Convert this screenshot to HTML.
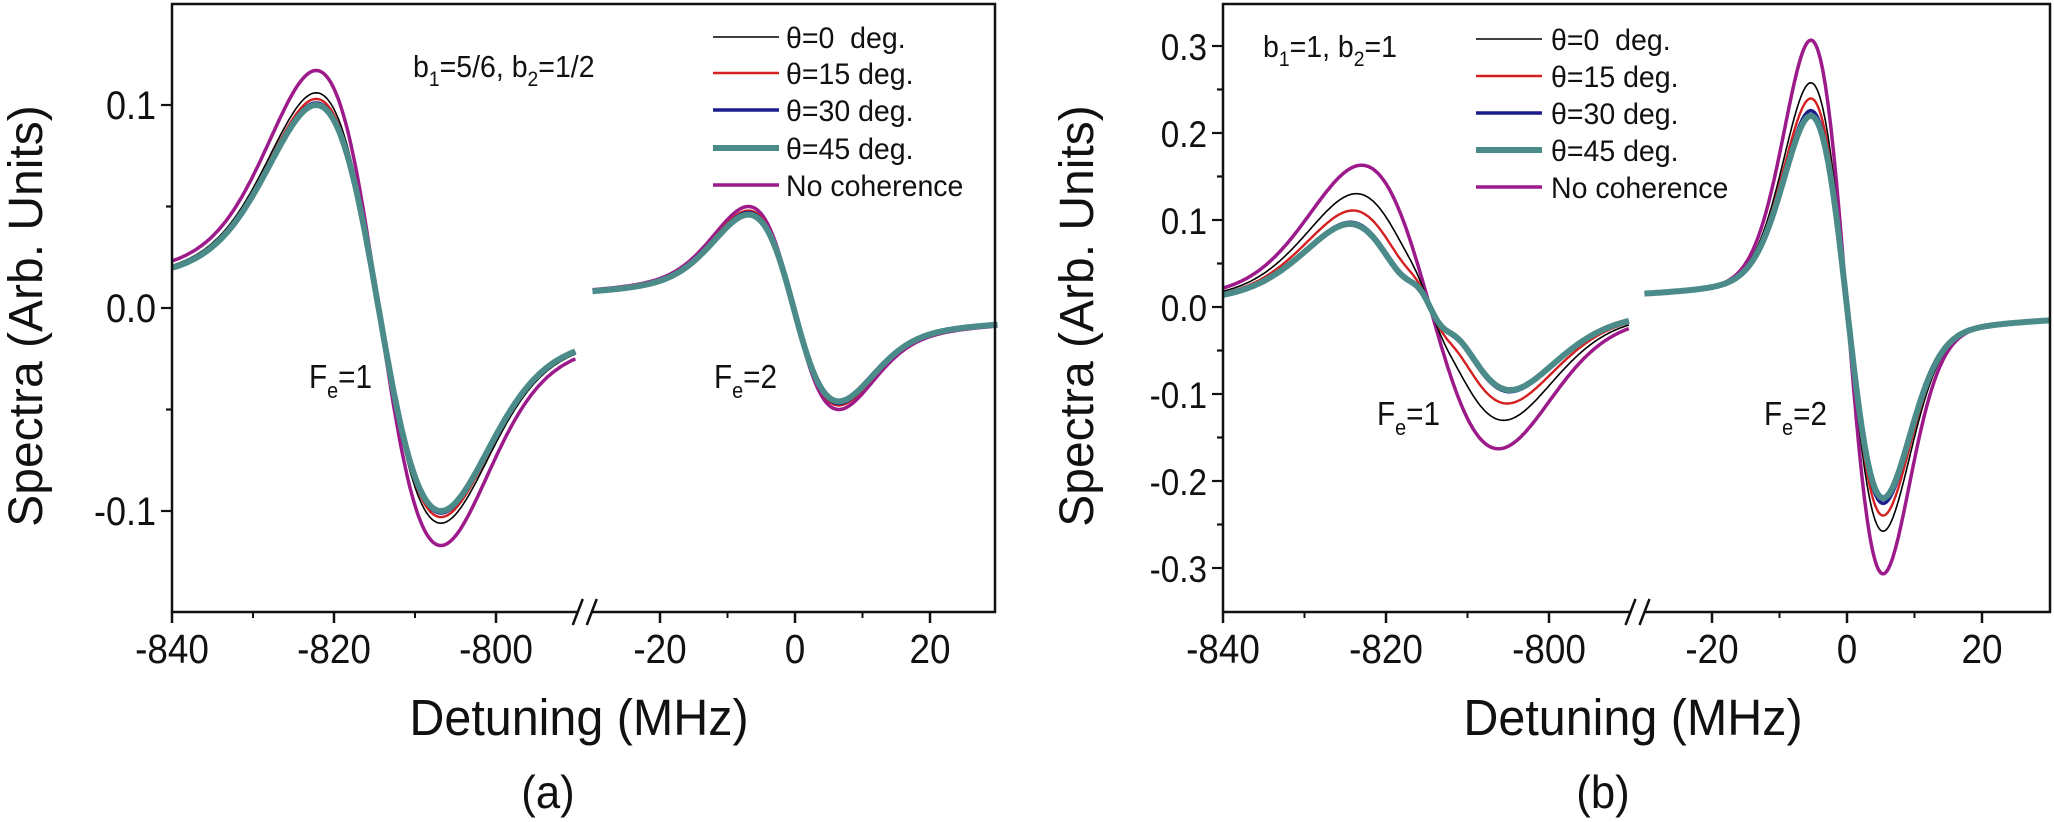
<!DOCTYPE html>
<html><head><meta charset="utf-8">
<style>
html,body{margin:0;padding:0;background:#fff;}
svg{display:block;font-family:"Liberation Sans",Arial,sans-serif;}
</style></head>
<body>
<svg id="s" width="2054" height="822" viewBox="0 0 2054 822" xmlns="http://www.w3.org/2000/svg"></svg>
<script>
const S=document.getElementById('s');
let out='';
function G(d,s){return -(d/s)*Math.exp(0.5-d*d/(2*s*s));}
function L(d,s){return -2*d*s/(d*d+s*s);}
function D(d,s,w){return (1-w)*G(d,s)+w*L(d,s);}
function txt(x,y,t,size,anchor,sx,extra){
  out+=`<text transform="translate(${x},${y}) scale(${sx||1},1)" font-size="${size}" text-anchor="${anchor||'start'}" fill="#111" ${extra||''}>${t}</text>`;
}
const cols=['#000','#d42020','#1c1c8c','#4b8b89','#9c1a8a'];
const widths=[1.6,2.4,3.5,6,3.5];
const names=['θ=0&#160;&#160;deg.','θ=15 deg.','θ=30 deg.','θ=45 deg.','No coherence'];

function panel(P){
  const {x0,x1,xa,sa,xb,sb,yz,sy,yt,yb,ymax,ystep,ylab,fnA,fnB}=P;
  for(const i of [4,0,1,2,3]){
    let p='';
    for(let m=-840;m<=-790;m+=0.2){const X=xa+(m+840)*sa,Y=yz-fnA(m,i)*sy;p+=(p?'L':'M')+X.toFixed(1)+','+Y.toFixed(1);}
    let q='';
    for(let m=-30;m<=30;m+=0.2){const X=xb+m*sb,Y=yz-fnB(m,i)*sy;q+=(q?'L':'M')+X.toFixed(1)+','+Y.toFixed(1);}
    out+=`<path d="${p}" fill="none" stroke="${cols[i]}" stroke-width="${widths[i]}" stroke-linejoin="round"/>`;
    out+=`<path d="${q}" fill="none" stroke="${cols[i]}" stroke-width="${widths[i]}" stroke-linejoin="round"/>`;
  }
  out+=`<rect x="${x0}" y="${yt}" width="${x1-x0}" height="${yb-yt}" fill="none" stroke="#111" stroke-width="2.5"/>`;
  [[-840,'-840'],[-820,'-820'],[-800,'-800']].forEach(([v,l])=>{const X=xa+(v+840)*sa;out+=`<line x1="${X}" y1="${yb}" x2="${X}" y2="${yb+11}" stroke="#111" stroke-width="2.5"/>`;txt(X,yb+51,l,41,'middle',0.9);});
  [-830,-810].forEach(v=>{const X=xa+(v+840)*sa;out+=`<line x1="${X}" y1="${yb}" x2="${X}" y2="${yb+6}" stroke="#111" stroke-width="2"/>`;});
  [[-20,'-20'],[0,'0'],[20,'20']].forEach(([v,l])=>{const X=xb+v*sb;out+=`<line x1="${X}" y1="${yb}" x2="${X}" y2="${yb+11}" stroke="#111" stroke-width="2.5"/>`;txt(X,yb+51,l,41,'middle',0.9);});
  [-10,10].forEach(v=>{const X=xb+v*sb;out+=`<line x1="${X}" y1="${yb}" x2="${X}" y2="${yb+6}" stroke="#111" stroke-width="2"/>`;});
  const bx=(xa+50*sa+xb-30*sb)/2;
  out+=`<rect x="${bx-7}" y="${yb-3}" width="14" height="6" fill="#fff"/>`;
  out+=`<line x1="${bx-12}" y1="${yb+13}" x2="${bx-2}" y2="${yb-13}" stroke="#111" stroke-width="2.5"/>`;
  out+=`<line x1="${bx+2}" y1="${yb+13}" x2="${bx+12}" y2="${yb-13}" stroke="#111" stroke-width="2.5"/>`;
  for(let k=-Math.round(ymax/ystep*2);k<=Math.round(ymax/ystep*2);k++){
    const v=k*ystep/2,Y=yz-v*sy;
    if(Y<yt+1||Y>yb-1)continue;
    const major=k%2===0;
    out+=`<line x1="${x0-(major?11:6)}" y1="${Y}" x2="${x0}" y2="${Y}" stroke="#111" stroke-width="2.2"/>`;
    if(major){let l=v.toFixed(1);if(Math.abs(v)<1e-9)l='0.0';txt(x0-16,Y+14,l,ylab,'end',0.9);}
  }
}

const ampA=[0.106,0.103,0.101,0.100,0.117];
const ampB=[0.048,0.048,0.047,0.046,0.050];
panel({x0:172,x1:995,xa:172,sa:8.1,xb:795,sb:6.75,yz:308,sy:2030,yt:4,yb:612,ymax:0.15,ystep:0.1,ylab:40,
  fnA:(m,i)=>ampA[i]*D(m+814.5,7.7,0.33),
  fnB:(m,i)=>ampB[i]*D(m+0.2,6.7,0.42)});

const uR=[0.47,0.76,0.97,1.0,0];
function magR(d){return 0.163*D(d,8.4,0.15);}
function tealR(d){return 0.105*D(d,8.4,0.15)-0.035*D(d,4,0)+0.012*G(d,1.6);}
const aR=[0.218,0.2,0.186,0.18,0.267];
panel({x0:1223,x1:2050,xa:1223,sa:8.15,xb:1847,sb:6.75,yz:307,sy:870,yt:4,yb:612,ymax:0.35,ystep:0.1,ylab:37,
  fnA:(m,i)=>{const d=m+814.6;return (1-uR[i])*magR(d)+uR[i]*tealR(d);},
  fnB:(m,i)=>0.04*L(m,6)+aR[i]*G(m,5.3)});

function legend(lx,tx,ys){
  ys.forEach((y,i)=>{out+=`<line x1="${lx}" y1="${y}" x2="${lx+66}" y2="${y}" stroke="${cols[i]}" stroke-width="${widths[i]}"/>`;txt(tx,y+11,names[i],30,'start',0.95);});
}
legend(713,786,[37,73,110,148,185]);
legend(1476,1551,[39,76,113,150,187]);

txt(413,77,'b<tspan font-size="21" dy="9">1</tspan><tspan dy="-9">=5/6, b</tspan><tspan font-size="21" dy="9">2</tspan><tspan dy="-9">=1/2</tspan>',31,'start',0.92);
txt(1263,57,'b<tspan font-size="21" dy="9">1</tspan><tspan dy="-9">=1, b</tspan><tspan font-size="21" dy="9">2</tspan><tspan dy="-9">=1</tspan>',31,'start',0.92);
txt(309,388,'F<tspan font-size="22" dy="10">e</tspan><tspan dy="-10">=1</tspan>',33,'start',0.9);
txt(714,388,'F<tspan font-size="22" dy="10">e</tspan><tspan dy="-10">=2</tspan>',33,'start',0.9);
txt(1377,425,'F<tspan font-size="22" dy="10">e</tspan><tspan dy="-10">=1</tspan>',33,'start',0.9);
txt(1764,425,'F<tspan font-size="22" dy="10">e</tspan><tspan dy="-10">=2</tspan>',33,'start',0.9);

txt(579,735,'Detuning (MHz)',51,'middle',0.95);
txt(1633,735,'Detuning (MHz)',51,'middle',0.95);
out+=`<text transform="translate(42,316) rotate(-90)" font-size="48" text-anchor="middle" fill="#111">Spectra (Arb. Units)</text>`;
out+=`<text transform="translate(1093,316) rotate(-90)" font-size="48" text-anchor="middle" fill="#111">Spectra (Arb. Units)</text>`;
txt(548,808,'(a)',46,'middle',0.95);
txt(1603,808,'(b)',46,'middle',0.95);

S.innerHTML=out;
</script>
</body></html>
